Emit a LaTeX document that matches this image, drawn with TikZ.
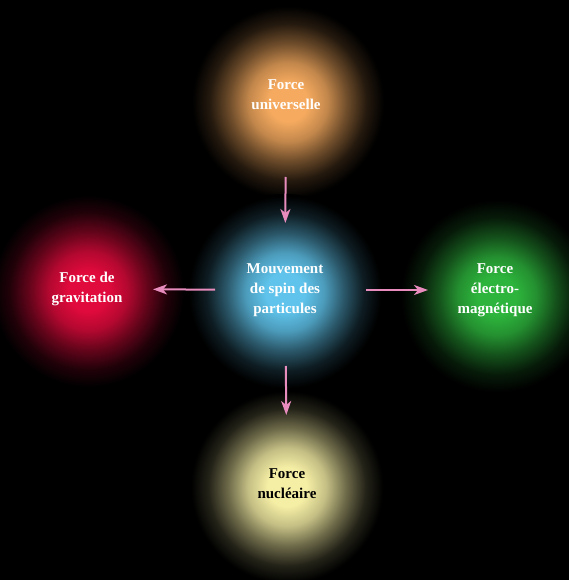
\documentclass[tikz,border=0pt]{standalone}
\usepackage{fontspec}
\setmainfont{Liberation Serif}
\usetikzlibrary{arrows.meta}
\definecolor{cOrange}{RGB}{245,170,95}
\definecolor{cRed}{RGB}{225,10,60}
\definecolor{cBlue}{RGB}{95,195,235}
\definecolor{cGreen}{RGB}{45,180,60}
\definecolor{cYellow}{RGB}{245,238,165}
\definecolor{arrowpink}{RGB}{232,140,190}
\newcommand\mkglow[2]{%
  \pgfdeclareradialshading{glow#1}{\pgfpoint{0bp}{0bp}}{%
    color(0bp)=(#2); color(5bp)=(#2); color(10bp)=(#2!80!black);
    color(15bp)=(#2!45!black); color(20bp)=(#2!15!black);
    color(24.5bp)=(black); color(50bp)=(black)}}
\mkglow{O}{cOrange}
\mkglow{R}{cRed}
\mkglow{B}{cBlue}
\mkglow{G}{cGreen}
\mkglow{Y}{cYellow}
\begin{document}
\begin{tikzpicture}[x=1bp,y=-1bp,
  lbl/.style={align=center,text=white,font=\bfseries\fontsize{15bp}{20bp}\selectfont,inner sep=0pt},
  arr/.style={draw=arrowpink,line width=2bp,-{Stealth[length=14bp,width=10bp,inset=4bp]}}]
\useasboundingbox (0,0) rectangle (569,580);
\fill[black] (0,0) rectangle (569,580);
\shade[shading=glowO] (288,102) circle (98);
\shade[shading=glowR] (88,291) circle (98);
\shade[shading=glowB] (285,292) circle (98);
\shade[shading=glowG] (497,296) circle (98);
\shade[shading=glowY] (287,487) circle (98);
\node[lbl] (univ) at (286,95) {Force\\universelle};
\node[lbl] (grav) at (87,289) {Force de\\gravitation};
\node[lbl] (spin) at (285,290) {Mouvement\\de spin des\\particules};
\node[lbl] (elec) at (495,290) {Force\\électro-\\magnétique};
\node[lbl,text=black] (nucl) at (287,484) {Force\\nucléaire};
\draw[arr,shorten <=82bp,shorten >=67bp] (univ.center) -- (spin.center);
\draw[arr,shorten <=70bp,shorten >=66bp] (spin.center) -- (grav.center);
\draw[arr,shorten <=81bp,shorten >=67bp] (spin.center) -- (elec.center);
\draw[arr,shorten <=76bp,shorten >=69bp] (spin.center) -- (nucl.center);
\end{tikzpicture}
\end{document}
